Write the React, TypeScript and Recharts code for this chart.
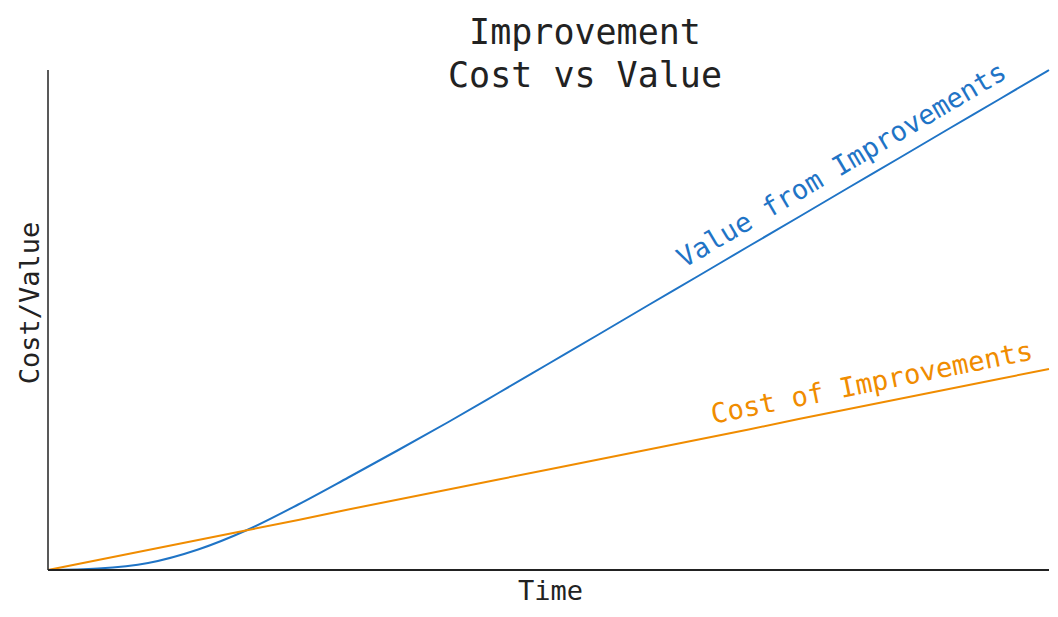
import { Label, Line, LineChart, ReferenceDot, XAxis, YAxis } from 'recharts';

const FONT = '"DejaVu Sans Mono", monospace';
const BLUE = '#1f74c6';
const ORANGE = '#f08c00';
const INK = '#222222';

const time = [0, 0.5, 1, 1.5, 2, 2.5, 3, 3.5, 4, 4.5, 5, 5.5, 6, 6.5, 7, 7.5, 8, 8.5, 9, 9.5, 10];
const valueFromImprovements = [
  0, 0.03, 0.14, 0.41, 0.81, 1.31, 1.85, 2.4, 2.96, 3.54, 4.125, 4.71, 5.3, 5.885, 6.475, 7.06, 7.65, 8.235, 8.825,
  9.41, 10,
];
const costOfImprovements = [
  0, 0.2, 0.4, 0.6, 0.8, 1.0, 1.21, 1.41, 1.61, 1.81, 2.01, 2.21, 2.41, 2.61, 2.81, 3.02, 3.22, 3.42, 3.62, 3.82,
  4.02,
];

const titleLines = ['Improvement', 'Cost vs Value'];

const data = time.map((t, i) => ({ t, value: valueFromImprovements[i], cost: costOfImprovements[i] }));

function lineLabel(text: string, color: string, angle: number, dx: number, dy: number) {
  return (props: any) => (
    <text
      transform={`translate(${props.cx},${props.cy}) rotate(${-angle})`}
      x={dx}
      y={dy}
      fill={color}
      fontFamily={FONT}
      fontSize={27.2}
    >
      {text}
    </text>
  );
}

export default function App() {
  return (
    <div style={{ position: 'relative', width: 1050, height: 600 }}>
      <div
        style={{
          position: 'absolute',
          left: 577,
          top: 3,
          transform: 'translateX(-50%)',
          fontFamily: FONT,
          fontSize: 35,
          lineHeight: '43px',
          color: INK,
          textAlign: 'center',
          whiteSpace: 'pre',
        }}
      >
        {titleLines.join('\n')}
      </div>
      <LineChart width={1050} height={600} data={data} margin={{ top: 62, right: 9, bottom: 37, left: 39 }}>
        <XAxis
          dataKey="t"
          type="number"
          domain={[0, 10]}
          tick={false}
          tickLine={false}
          height={1}
          axisLine={{ stroke: INK, strokeWidth: 2 }}
        >
          <Label
            content={(p: any) => (
              <text
                x={p.viewBox.x + p.viewBox.width / 2 + 2}
                y={p.viewBox.y + 30}
                textAnchor="middle"
                fill={INK}
                fontFamily={FONT}
                fontSize={27}
              >
                Time
              </text>
            )}
          />
        </XAxis>
        <YAxis
          type="number"
          domain={[0, 10]}
          tick={false}
          tickLine={false}
          width={1}
          axisLine={{ stroke: INK, strokeWidth: 1.5 }}
        >
          <Label
            content={(p: any) => {
              const cx = p.viewBox.x + p.viewBox.width - 9.5;
              const cy = p.viewBox.y + p.viewBox.height / 2 - 17;
              return (
                <text
                  transform={`translate(${cx},${cy}) rotate(-90)`}
                  textAnchor="middle"
                  fill={INK}
                  fontFamily={FONT}
                  fontSize={27}
                >
                  Cost/Value
                </text>
              );
            }}
          />
        </YAxis>
        <Line
          type="monotone"
          dataKey="value"
          stroke={BLUE}
          strokeWidth={2}
          dot={false}
          isAnimationActive={false}
        />
        <Line type="linear" dataKey="cost" stroke={ORANGE} strokeWidth={2} dot={false} isAnimationActive={false} />
        <ReferenceDot
          x={6.31}
          y={5.67}
          r={0}
          shape={lineLabel('Value from Improvements', BLUE, 30.5, 13, -13.4)}
        />
        <ReferenceDot x={6.63} y={2.665} r={0} shape={lineLabel('Cost of Improvements', ORANGE, 11.35, 4, -12.5)} />
      </LineChart>
    </div>
  );
}
